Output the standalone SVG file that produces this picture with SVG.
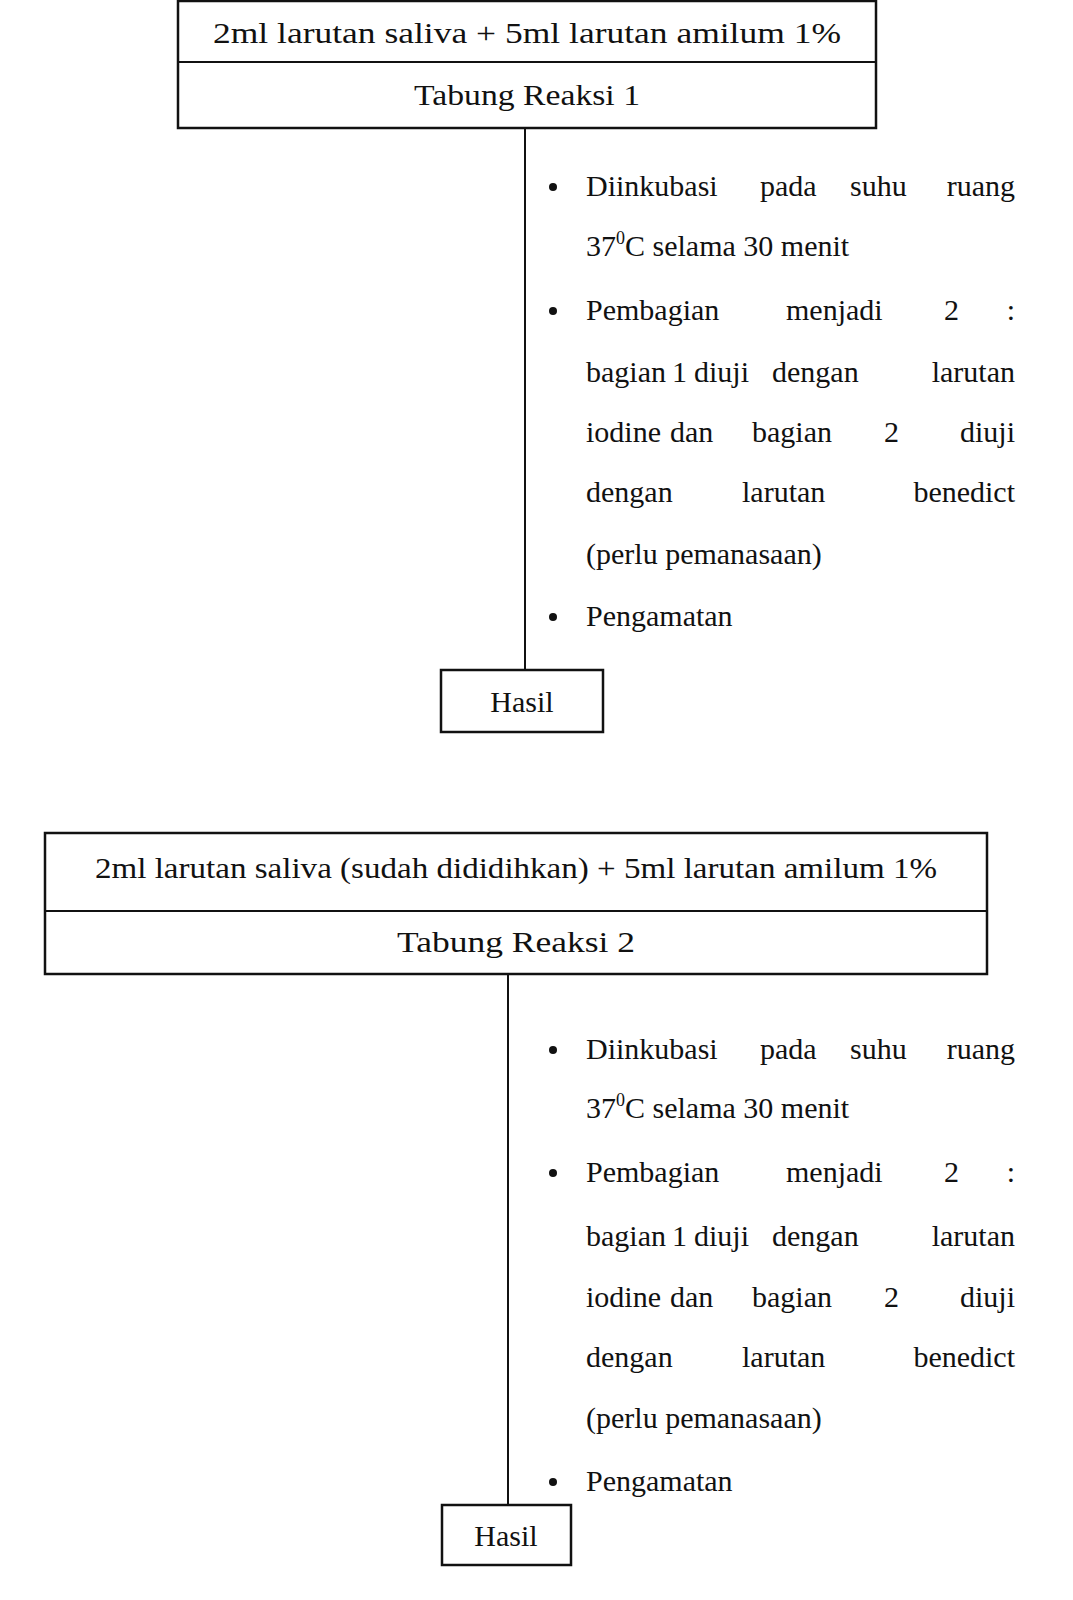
<svg xmlns="http://www.w3.org/2000/svg" width="1073" height="1600" viewBox="0 0 1073 1600">
<style>
text{font-family:"Liberation Serif","Times New Roman",serif;font-size:30px;fill:#111}
.b{fill:#fff;stroke:#111;stroke-width:2.5}
.c{stroke:#111;stroke-width:2;fill:none}
.m{text-anchor:middle}
.e{text-anchor:end}
</style>
<rect width="1073" height="1600" fill="#fff"/>
<g id="tabung1">
<rect class="b" x="178" y="1" width="698" height="127"/>
<line class="c" x1="178" y1="62" x2="876" y2="62"/>
<text class="m" x="527" y="43" textLength="628" lengthAdjust="spacingAndGlyphs">2ml larutan saliva + 5ml larutan amilum 1%</text>
<text class="m" x="527" y="105" textLength="226" lengthAdjust="spacingAndGlyphs">Tabung Reaksi 1</text>
</g>
<g id="connectors">
<line class="c" x1="525" y1="128" x2="525" y2="670"/>
<line class="c" x1="508" y1="974" x2="508" y2="1505"/>
</g>
<g id="steps1">
<circle cx="553" cy="187" r="4" fill="#111"/>
<text x="586" y="196">Diinkubasi</text><text x="760" y="196">pada</text><text x="850" y="196">suhu</text><text class="e" x="1015" y="196">ruang</text>
<text x="586" y="256">37<tspan font-size="18" dy="-12">0</tspan><tspan dy="12">C selama 30 menit</tspan></text>
<circle cx="553" cy="311" r="4" fill="#111"/>
<text x="586" y="320">Pembagian</text><text x="786" y="320">menjadi</text><text x="944" y="320">2</text><text class="e" x="1015" y="320">:</text>
<text x="586" y="382">bagian</text><text x="672" y="382">1</text><text x="694" y="382">diuji</text><text x="772" y="382">dengan</text><text class="e" x="1015" y="382">larutan</text>
<text x="586" y="442">iodine</text><text x="670" y="442">dan</text><text x="752" y="442">bagian</text><text x="884" y="442">2</text><text class="e" x="1015" y="442">diuji</text>
<text x="586" y="502">dengan</text><text x="742" y="502">larutan</text><text class="e" x="1015" y="502">benedict</text>
<text x="586" y="564">(perlu pemanasaan)</text>
<circle cx="553" cy="617" r="4" fill="#111"/>
<text x="586" y="626">Pengamatan</text>
</g>
<g id="hasil1">
<rect class="b" x="441" y="670" width="162" height="62"/>
<text class="m" x="522" y="712">Hasil</text>
</g>
<g id="tabung2">
<rect class="b" x="45" y="833" width="942" height="141"/>
<line class="c" x1="45" y1="911" x2="987" y2="911"/>
<text class="m" x="516" y="878" textLength="842" lengthAdjust="spacingAndGlyphs">2ml larutan saliva (sudah dididihkan) + 5ml larutan amilum 1%</text>
<text class="m" x="516" y="952" textLength="238" lengthAdjust="spacingAndGlyphs">Tabung Reaksi 2</text>
</g>
<g id="steps2">
<circle cx="553" cy="1050" r="4" fill="#111"/>
<text x="586" y="1059">Diinkubasi</text><text x="760" y="1059">pada</text><text x="850" y="1059">suhu</text><text class="e" x="1015" y="1059">ruang</text>
<text x="586" y="1118">37<tspan font-size="18" dy="-12">0</tspan><tspan dy="12">C selama 30 menit</tspan></text>
<circle cx="553" cy="1173" r="4" fill="#111"/>
<text x="586" y="1182">Pembagian</text><text x="786" y="1182">menjadi</text><text x="944" y="1182">2</text><text class="e" x="1015" y="1182">:</text>
<text x="586" y="1246">bagian</text><text x="672" y="1246">1</text><text x="694" y="1246">diuji</text><text x="772" y="1246">dengan</text><text class="e" x="1015" y="1246">larutan</text>
<text x="586" y="1307">iodine</text><text x="670" y="1307">dan</text><text x="752" y="1307">bagian</text><text x="884" y="1307">2</text><text class="e" x="1015" y="1307">diuji</text>
<text x="586" y="1367">dengan</text><text x="742" y="1367">larutan</text><text class="e" x="1015" y="1367">benedict</text>
<text x="586" y="1428">(perlu pemanasaan)</text>
<circle cx="553" cy="1482" r="4" fill="#111"/>
<text x="586" y="1491">Pengamatan</text>
</g>
<g id="hasil2">
<rect class="b" x="442" y="1505" width="129" height="60"/>
<text class="m" x="506" y="1546">Hasil</text>
</g>
</svg>
